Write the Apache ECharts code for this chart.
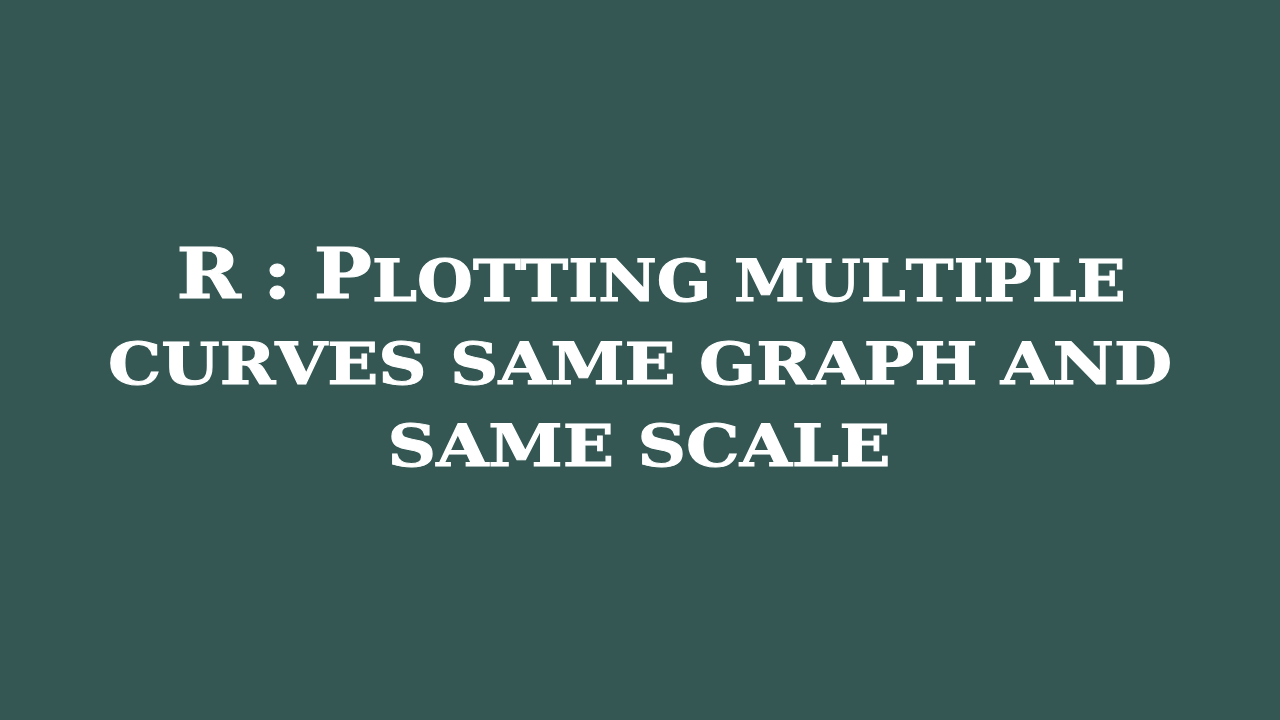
<!DOCTYPE html>
<html lang="en">
<head>
    <meta charset="UTF-8">
    <title>R : Plotting multiple curves same graph and same scale</title>
    <script src="https://cdn.jsdelivr.net/npm/echarts@6/dist/echarts.min.js"></script>
    <style>
        html, body {margin: 0; padding: 0; background: #345753;}
        #main {width: 1280px; height: 720px;}
    </style>
</head>
<body>
<div id="main"></div>
<script>
    // title lines as shown on the card
    var titleLines = ['R : Plotting multiple', 'curves same graph and', 'same scale'];
    var lineY = [275, 358, 440];
    var lineX = [651, 640, 639];
    var lineScaleX = [1.105, 1.155, 1.16];

    // copperplate look: capitals big, lower case as small caps
    function toRich(s) {
        var out = '';
        for (var i = 0; i < s.length; i++) {
            var c = s.charAt(i);
            if ((c >= 'A' && c <= 'Z') || c == ':') {
                out += '{big|' + c + '}';
            } else {
                out += '{small|' + c.toUpperCase() + '}';
            }
        }
        return out;
    }

    var font = '"DejaVu Serif", serif';
    var graphics = [];
    for (var i = 0; i < titleLines.length; i++) {
        graphics.push({
            type: 'text',
            x: lineX[i],
            y: lineY[i],
            scaleX: lineScaleX[i],
            style: {
                text: toRich(titleLines[i]),
                fill: '#ffffff',
                align: 'center',
                verticalAlign: 'middle',
                rich: {
                    big: {fontFamily: font, fontWeight: 'bold', fontSize: 70, fill: '#ffffff', stroke: '#ffffff', lineWidth: 1, verticalAlign: 'bottom', lineHeight: 80},
                    small: {fontFamily: font, fontWeight: 'bold', fontSize: 58, fill: '#ffffff', stroke: '#ffffff', lineWidth: 1, verticalAlign: 'bottom', lineHeight: 80}
                }
            }
        });
    }

    var myChart = echarts.init(document.getElementById('main'));
    myChart.setOption({
        backgroundColor: '#345753',
        animation: false,
        graphic: graphics
    });
</script>
</body>
</html>
